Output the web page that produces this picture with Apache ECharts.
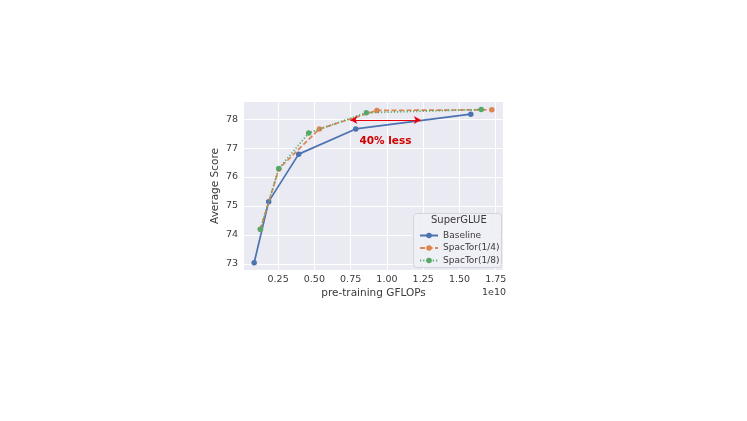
<!DOCTYPE html>
<html>
<head>
<meta charset="utf-8">
<script src="https://cdn.jsdelivr.net/npm/echarts@6/dist/echarts.min.js"></script>
<style>html,body{margin:0;padding:0;background:#fff}#c{width:747px;height:421px}</style>
</head>
<body>
<div id="c"></div>
<script>
// x values in units of 1e10 GFLOPs
const baselineX = [0.085, 0.185, 0.392, 0.785, 1.578];
const baselineY = [73.04, 75.15, 76.79, 77.66, 78.17];
const spac4X = [0.128, 0.255, 0.535, 0.931, 1.723];
const spac4Y = [74.20, 76.28, 77.66, 78.30, 78.32];
const spac8X = [0.128, 0.255, 0.461, 0.858, 1.650];
const spac8Y = [74.20, 76.29, 77.52, 78.22, 78.33];
const xTicks = [0.25, 0.5, 0.75, 1.0, 1.25, 1.5, 1.75];
const yTicks = [73, 74, 75, 76, 77, 78];
const arrowX = [0.748, 1.234];
const arrowY = 77.97;
const noteText = '40% less';
const notePos = [0.99, 77.24];
const seriesNames = ['Baseline', 'SpacTor(1/4)', 'SpacTor(1/8)'];
const colors = ['#4C72B0', '#DD8452', '#55A868'];

const zip = (xs, ys) => xs.map((x, i) => [x, ys[i]]);
const font = 'DejaVu Sans';

const chart = echarts.init(document.getElementById('c'));
chart.setOption({
  animation: false,
  textStyle: {fontFamily: font},
  grid: {left: 244, right: 244, top: 102, bottom: 151, show: true, backgroundColor: '#EAEAF2', borderWidth: 0},
  xAxis: {
    type: 'value', min: 0.015, max: 1.80,
    axisLine: {show: false},
    axisTick: {show: false, customValues: xTicks},
    axisLabel: {customValues: xTicks, formatter: v => v.toFixed(2), color: '#3a3a3a', fontSize: 9.5, margin: 5, fontFamily: font},
    splitLine: {show: true, lineStyle: {color: '#ffffff', width: 1}},
    name: 'pre-training GFLOPs', nameLocation: 'middle', nameGap: 18,
    nameTextStyle: {color: '#3a3a3a', fontSize: 10.5, fontFamily: font}
  },
  yAxis: {
    type: 'value', min: 72.79, max: 78.59,
    axisLine: {show: false},
    axisTick: {show: false, customValues: yTicks},
    axisLabel: {customValues: yTicks, color: '#3a3a3a', fontSize: 9.5, margin: 6, fontFamily: font},
    splitLine: {show: true, lineStyle: {color: '#ffffff', width: 1}},
    name: 'Average Score', nameLocation: 'middle', nameGap: 23,
    nameTextStyle: {color: '#3a3a3a', fontSize: 10.5, fontFamily: font}
  },
  legend: {
    orient: 'vertical', left: 414, top: 226, itemGap: 3.5, itemWidth: 18, itemHeight: 7, z: 20,
    data: seriesNames,
    textStyle: {color: '#3a3a3a', fontSize: 9, fontFamily: font}
  },
  graphic: [
    {type: 'rect', left: 413, top: 213, z: 10, shape: {width: 88, height: 54, r: 3},
     style: {fill: 'rgba(240,240,246,0.9)', stroke: '#d4d4dc', lineWidth: 1}},
    {type: 'text', left: 431, top: 215, z: 11, style: {text: 'SuperGLUE', fill: '#3a3a3a', fontSize: 10, fontFamily: font}},
    {type: 'text', left: 482, top: 288, style: {text: '1e10', fill: '#3a3a3a', fontSize: 9.5, fontFamily: font}}
  ],
  series: [
    {name: seriesNames[0], type: 'line', data: zip(baselineX, baselineY), symbol: 'circle', symbolSize: 5.5,
     itemStyle: {color: colors[0]}, lineStyle: {color: colors[0], width: 1.7}, z: 2,
     markLine: {silent: true, symbol: ['arrow', 'arrow'], symbolSize: [6, 7],
       lineStyle: {color: '#e8000b', width: 1.2, type: 'solid'}, label: {show: false},
       data: [[{coord: [arrowX[0], arrowY]}, {coord: [arrowX[1], arrowY]}]]},
     markPoint: {silent: true, symbol: 'circle', symbolSize: 0,
       label: {show: true, formatter: noteText, color: '#d00000', fontWeight: 'bold', fontSize: 10.5, fontFamily: font},
       data: [{coord: notePos}]}
    },
    {name: seriesNames[1], type: 'line', data: zip(spac4X, spac4Y), symbol: 'circle', symbolSize: 5.5,
     itemStyle: {color: colors[1]}, lineStyle: {color: colors[1], width: 1.7, type: [5, 2.5]}, z: 3},
    {name: seriesNames[2], type: 'line', data: zip(spac8X, spac8Y), symbol: 'circle', symbolSize: 5.5,
     itemStyle: {color: colors[2]}, lineStyle: {color: colors[2], width: 1.7, type: [1.2, 2]}, z: 4}
  ]
});
</script>
</body>
</html>
